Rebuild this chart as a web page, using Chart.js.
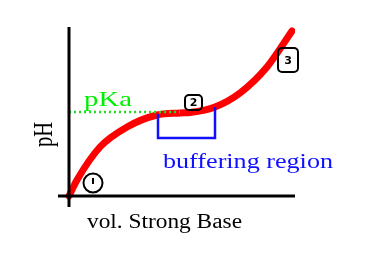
<!DOCTYPE html>
<html>
<head>
<meta charset="utf-8">
<script src="https://cdn.jsdelivr.net/npm/chart.js@4/dist/chart.umd.min.js"></script>
<style>
  body { margin: 0; background: #fff; }
  #wrap { width: 379px; height: 254px; position: relative; }
</style>
</head>
<body>
<div id="wrap"><canvas id="chart"></canvas></div>
<script>
// titration curve (arbitrary units, no ticks on the original)
var volume = [0, 0.8, 3.1, 5.8, 8.8, 11.1, 12.1, 14.6, 17.1, 19.8, 22.3];
var ph     = [0, 1.6, 4.9, 6.9, 8.1, 8.3, 8.35, 8.9, 10.3, 12.9, 16.5];
// pKa level and buffering region box
var pKa = 8.4;
var pKaEnd = 11.1;
var bufX = [8.9, 8.9, 14.6, 14.6];
var bufY = [8.2, 5.8, 5.8, 8.9];
// axis ranges
var xRange = [-1.1, 22.6];
var yRange = [-1.1, 16.9];

function pts(xs, ys) {
  return xs.map(function (x, i) { return { x: x, y: ys[i] }; });
}

// draw text stretched to a given width (the original is a stretched bitmap)
function fitText(c, txt, x, y, size, w, color) {
  c.save();
  c.font = size + 'px "Liberation Serif"';
  c.fillStyle = color;
  var m = c.measureText(txt).width;
  c.translate(x, y);
  c.scale(w / m, 1);
  c.fillText(txt, 0, 0);
  c.restore();
}

var labels = {
  id: 'labels',
  afterDraw: function (chart) {
    var c = chart.ctx;
    c.save();
    c.textBaseline = 'alphabetic';
    fitText(c, 'vol. Strong Base', 87, 228, 20, 155, '#000');
    fitText(c, 'pKa', 84, 106, 21, 48, '#00ee00');
    fitText(c, 'buffering region', 163, 168, 22, 170, '#1010ff');
    // pH rotated
    c.translate(52, 147);
    c.rotate(-Math.PI / 2);
    fitText(c, 'pH', 0, 0, 27, 25, '#000');
    c.restore();

    // hand drawn point markers
    c.save();
    c.strokeStyle = '#000';
    c.lineWidth = 2;
    c.beginPath();
    c.arc(93, 183, 9.5, 0, Math.PI * 2);
    c.stroke();
    c.beginPath();
    c.moveTo(93, 178); c.lineTo(93, 184);
    c.stroke();
    function box(x, y, w, h, t) {
      c.beginPath();
      c.roundRect(x, y, w, h, 4);
      c.stroke();
      c.font = 'bold 11px "DejaVu Sans"';
      c.textAlign = 'center';
      c.textBaseline = 'middle';
      c.fillStyle = '#000';
      c.fillText(t, x + w / 2, y + h / 2 + 1);
    }
    box(185, 95, 17, 15, '2');
    box(278, 48, 20, 24, '3');
    c.restore();
  }
};

new Chart(document.getElementById('chart').getContext('2d'), {
  type: 'line',
  data: {
    datasets: [
      { data: pts([0, 0], yRange), borderColor: '#000', borderWidth: 3, pointRadius: 0, tension: 0 },
      { data: pts(xRange, [0, 0]), borderColor: '#000', borderWidth: 3, pointRadius: 0, tension: 0 },
      { data: pts([0, pKaEnd], [pKa, pKa]), borderColor: '#22dd22', borderWidth: 2.5, borderDash: [2, 3], pointRadius: 0, tension: 0 },
      { data: pts(bufX, bufY), borderColor: '#1010ff', borderWidth: 2.5, pointRadius: 0, tension: 0 },
      { data: pts(volume, ph), borderColor: '#ff0000', borderWidth: 7, pointRadius: 0, cubicInterpolationMode: 'monotone', borderCapStyle: 'round' }
    ]
  },
  options: {
    responsive: true,
    maintainAspectRatio: false,
    animation: false,
    layout: { padding: { left: 58, right: 84, top: 27, bottom: 47 } },
    plugins: { legend: { display: false }, tooltip: { enabled: false } },
    scales: {
      x: { type: 'linear', display: false, min: xRange[0], max: xRange[1] },
      y: { type: 'linear', display: false, min: yRange[0], max: yRange[1] }
    }
  },
  plugins: [labels]
});
</script>
</body>
</html>
